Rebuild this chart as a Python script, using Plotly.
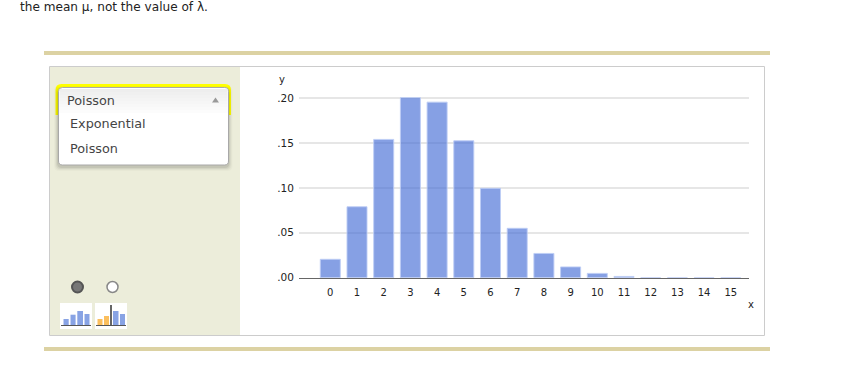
import plotly.graph_objects as go

W, H = 868, 379
FONT = "DejaVu Sans"

# Chart data
x_values = list(range(16))
probabilities = [0.0205, 0.079, 0.154, 0.2005, 0.1955, 0.1525, 0.0995, 0.055, 0.027, 0.012,
                 0.0048, 0.0014, 0.0, 0.0, 0.0, 0.0]
y_ticks = [0.0, 0.05, 0.10, 0.15, 0.20]
y_tick_labels = [".00", ".05", ".10", ".15", ".20"]
x_tick_labels = [str(v) for v in x_values]
dropdown_items = ["Exponential", "Poisson"]
selected_item = "Poisson"

# Plot frame in page pixels
LEFT, RIGHT, ZERO_Y, TOP_Y = 299, 749, 277.7, 89.1
PX_PER_X = 26.7
X0_PX = 330.3


def px(x):
    return x / W


def py(y):
    return 1 - y / H


def rect(x0, y0, x1, y1, fill, line=None, lw=1, layer="below"):
    return dict(type="rect", xref="paper", yref="paper", x0=px(x0), x1=px(x1), y0=py(y0), y1=py(y1),
                fillcolor=fill, line=dict(color=line or "rgba(0,0,0,0)", width=lw if line else 0), layer=layer)


def circle(cx, cy, r, fill, line, lw):
    return dict(type="circle", xref="paper", yref="paper", x0=px(cx - r), x1=px(cx + r),
                y0=py(cy - r), y1=py(cy + r), fillcolor=fill, line=dict(color=line, width=lw), layer="above")


def rounded(x0, y0, x1, y1, r, fill, line=None, lw=1, top_only=False):
    p = lambda x, y: f"{px(x):.5f},{py(y):.5f}"
    d = f"M{p(x0, y0 + r)} Q{p(x0, y0)} {p(x0 + r, y0)} L{p(x1 - r, y0)} Q{p(x1, y0)} {p(x1, y0 + r)} "
    if top_only:
        d += f"L{p(x1, y1)} L{p(x0, y1)} Z"
    else:
        d += f"L{p(x1, y1 - r)} Q{p(x1, y1)} {p(x1 - r, y1)} L{p(x0 + r, y1)} Q{p(x0, y1)} {p(x0, y1 - r)} Z"
    return dict(type="path", xref="paper", yref="paper", path=d, fillcolor=fill,
                line=dict(color=line or "rgba(0,0,0,0)", width=lw if line else 0), layer="below")


def label(x, y, text, size, color="#333333", anchor="left"):
    return dict(xref="paper", yref="paper", x=px(x), y=py(y), text=text, showarrow=False, xanchor=anchor,
                yanchor="middle", xshift=0, font=dict(family=FONT, size=size, color=color))


GOLD = "#DCD2A3"
shapes = [
    rect(44, 51, 770, 55, GOLD),
    rect(44, 347, 770, 351, GOLD),
    rect(49.5, 66.5, 764.5, 335.5, "#FFFFFF", "#CCCCCC", 1),
    rect(50, 67, 240, 335, "#ECEDDA"),
    rounded(55.5, 84, 231, 115, 6, "#FFFF00", top_only=True),
]
# Dropdown soft shadow
for grow, alpha in [(4, 0.02), (3, 0.03), (2, 0.05), (1, 0.07)]:
    shapes.append(rounded(58 - grow, 88 - grow + 2, 228.5 + grow, 165 + grow + 2, 5, f"rgba(0,0,0,{alpha})"))
shapes.append(rounded(58.5, 87.5, 228.5, 165, 4, "#FFFFFF", "#A8A8A8", 1))
# Header gradient
for i, shade in enumerate(["#EEEEEE", "#F0F0F0", "#F2F2F2", "#F4F4F4", "#F6F6F6", "#F8F8F8", "#FAFAFA", "#FCFCFC"]):
    shapes.append(rect(59.5, 89 + i * 3, 227.5, 92 + i * 3, shade))
# Dropdown arrow
shapes.append(dict(type="path", xref="paper", yref="paper", layer="below", fillcolor="#999999", line=dict(width=0),
                   path=f"M{px(212):.5f},{py(102.5):.5f} L{px(219):.5f},{py(102.5):.5f} L{px(215.5):.5f},{py(97.5):.5f} Z"))
# Radio buttons
shapes += [
    circle(77.5, 287, 5.5, "#777777", "#555555", 2),
    circle(112.5, 287, 5.5, "#FFFFFF", "#888888", 1.5),
]
# View thumbnails
shapes += [rect(60, 303, 92, 329, "#FFFFFF"), rect(95, 303, 127, 329, "#FFFFFF")]
for x0, x1, top in [(63.5, 68.7, 319), (70.5, 75.6, 314.7), (77.3, 83, 311), (84.5, 89.5, 314)]:
    shapes.append(rect(x0, top, x1, 325.3, "#88A3E4"))
for x0, x1, top, c in [(97.5, 102.5, 319, "#FBBF5E"), (104, 109, 316, "#FBBF5E"), (110, 112, 305, "#666666"),
                       (113, 118.5, 311, "#88A3E4"), (120, 125, 314, "#88A3E4")]:
    shapes.append(rect(x0, top, x1, 325.3, c))
shapes += [rect(61, 325, 91, 326, "#555555"), rect(96, 325, 126, 326, "#555555")]

annotations = [
    label(18, 7, "the mean μ, not the value of λ.", 12.1, "#222222"),
    label(65, 100.5, selected_item, 12.8, "#444444"),
    label(68, 123.5, dropdown_items[0], 12.8, "#444444"),
    label(68, 148.5, dropdown_items[1], 12.8, "#444444"),
    label(282, 79.5, "y", 10, "#222222", "center"),
    label(750.5, 304.5, "x", 10, "#222222", "center"),
]

fig = go.Figure(go.Bar(
    x=x_values, y=probabilities, width=0.75,
    marker=dict(color="rgba(66,106,212,0.64)", line=dict(color="rgba(190,205,245,0.9)", width=1)),
    hoverinfo="skip",
))

fig.update_layout(
    width=W, height=H, autosize=False, margin=dict(l=0, r=0, t=0, b=0, pad=0),
    paper_bgcolor="#FFFFFF", plot_bgcolor="rgba(0,0,0,0)", showlegend=False,
    shapes=shapes, annotations=annotations, font=dict(family=FONT, size=10, color="#222222"),
    xaxis=dict(
        automargin=False,
        domain=[px(LEFT), px(RIGHT)],
        range=[(LEFT - X0_PX) / PX_PER_X, (RIGHT - X0_PX) / PX_PER_X],
        tickmode="array", tickvals=x_values, ticktext=x_tick_labels,
        showgrid=False, zeroline=False, showline=True, linecolor="#666666", linewidth=1,
        ticks="outside", ticklen=5, tickcolor="rgba(0,0,0,0)",
        tickfont=dict(family=FONT, size=10, color="#222222"), layer="above traces",
    ),
    yaxis=dict(
        automargin=False,
        domain=[py(ZERO_Y), py(TOP_Y)],
        range=[0, (ZERO_Y - TOP_Y) / 898.0],
        tickmode="array", tickvals=y_ticks, ticktext=y_tick_labels,
        showgrid=True, gridcolor="#E6E6E6", gridwidth=2, zeroline=False, showline=False,
        ticks="outside", ticklen=2, tickcolor="rgba(0,0,0,0)",
        tickfont=dict(family=FONT, size=10.5, color="#222222"),
    ),
)

fig.write_html("out.html", config={"displayModeBar": False}, post_script="document.body.style.margin='0';")
